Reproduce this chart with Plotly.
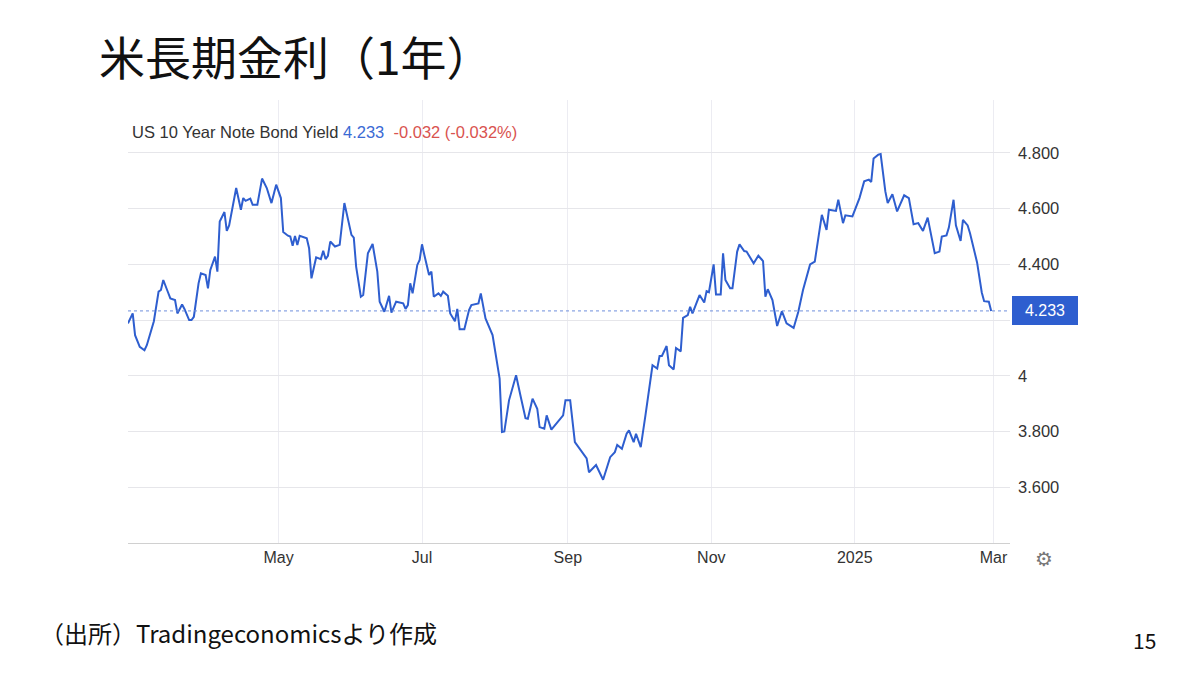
import plotly.graph_objects as go

# US 10Y yield
dates = [
    '2024-02-27', '2024-02-29', '2024-03-01', '2024-03-03', '2024-03-05', '2024-03-06', '2024-03-09', '2024-03-11',
    '2024-03-12', '2024-03-13', '2024-03-15', '2024-03-16', '2024-03-18', '2024-03-19', '2024-03-21', '2024-03-22',
    '2024-03-24', '2024-03-25', '2024-03-26', '2024-03-28', '2024-03-29', '2024-03-31',
    '2024-04-01', '2024-04-02', '2024-04-04', '2024-04-05', '2024-04-06', '2024-04-08', '2024-04-09', '2024-04-10',
    '2024-04-13', '2024-04-15', '2024-04-16', '2024-04-17', '2024-04-19', '2024-04-20', '2024-04-22', '2024-04-24',
    '2024-04-26', '2024-04-27', '2024-04-28', '2024-04-30',
    '2024-05-02', '2024-05-03', '2024-05-05', '2024-05-06', '2024-05-07', '2024-05-08', '2024-05-09', '2024-05-10',
    '2024-05-12', '2024-05-13', '2024-05-14', '2024-05-15', '2024-05-17', '2024-05-19', '2024-05-20', '2024-05-21',
    '2024-05-22', '2024-05-23', '2024-05-25', '2024-05-27', '2024-05-29', '2024-05-31',
    '2024-06-01', '2024-06-02', '2024-06-03', '2024-06-05', '2024-06-06', '2024-06-08', '2024-06-10', '2024-06-12',
    '2024-06-13', '2024-06-15', '2024-06-17', '2024-06-18', '2024-06-20', '2024-06-23', '2024-06-24', '2024-06-25',
    '2024-06-26', '2024-06-27', '2024-06-29', '2024-06-30',
    '2024-07-01', '2024-07-02', '2024-07-04', '2024-07-05', '2024-07-06', '2024-07-08', '2024-07-09', '2024-07-10',
    '2024-07-12', '2024-07-13', '2024-07-15', '2024-07-16', '2024-07-17', '2024-07-19', '2024-07-21', '2024-07-22',
    '2024-07-25', '2024-07-26', '2024-07-28', '2024-07-31',
    '2024-08-02', '2024-08-03', '2024-08-04', '2024-08-05', '2024-08-07', '2024-08-10', '2024-08-12', '2024-08-14',
    '2024-08-15', '2024-08-17', '2024-08-19', '2024-08-20', '2024-08-22', '2024-08-23', '2024-08-25', '2024-08-28',
    '2024-08-30', '2024-08-31',
    '2024-09-02', '2024-09-04', '2024-09-07', '2024-09-09', '2024-09-10', '2024-09-13', '2024-09-16', '2024-09-19',
    '2024-09-21', '2024-09-22', '2024-09-24', '2024-09-26', '2024-09-27', '2024-09-29', '2024-09-30',
    '2024-10-02', '2024-10-04', '2024-10-07', '2024-10-09', '2024-10-10', '2024-10-11', '2024-10-13', '2024-10-14',
    '2024-10-16', '2024-10-17', '2024-10-19', '2024-10-20', '2024-10-22', '2024-10-23', '2024-10-24', '2024-10-27',
    '2024-10-29', '2024-10-30', '2024-10-31',
    '2024-11-02', '2024-11-03', '2024-11-05', '2024-11-06', '2024-11-07', '2024-11-09', '2024-11-10', '2024-11-12',
    '2024-11-13', '2024-11-15', '2024-11-16', '2024-11-19', '2024-11-21', '2024-11-23', '2024-11-24', '2024-11-25',
    '2024-11-27', '2024-11-29',
    '2024-12-01', '2024-12-03', '2024-12-06', '2024-12-08', '2024-12-10', '2024-12-13', '2024-12-15', '2024-12-17',
    '2024-12-18', '2024-12-20', '2024-12-21', '2024-12-24', '2024-12-25', '2024-12-27', '2024-12-28', '2024-12-31',
    '2025-01-03', '2025-01-05', '2025-01-07', '2025-01-08', '2025-01-09', '2025-01-11', '2025-01-12', '2025-01-14',
    '2025-01-15', '2025-01-17', '2025-01-19', '2025-01-22', '2025-01-24', '2025-01-26', '2025-01-28', '2025-01-30',
    '2025-02-01', '2025-02-04', '2025-02-06', '2025-02-07', '2025-02-09', '2025-02-10', '2025-02-12', '2025-02-13',
    '2025-02-15', '2025-02-16', '2025-02-18', '2025-02-19', '2025-02-21', '2025-02-22', '2025-02-24', '2025-02-25',
    '2025-02-27', '2025-02-28',
]
yields = [
    4.188, 4.224, 4.146, 4.104, 4.092, 4.110, 4.196, 4.302,
    4.308, 4.344, 4.300, 4.278, 4.272, 4.224, 4.256, 4.240,
    4.200, 4.200, 4.212, 4.332, 4.368, 4.362,
    4.314, 4.380, 4.428, 4.374, 4.554, 4.588, 4.520, 4.540,
    4.674, 4.596, 4.638, 4.628, 4.636, 4.614, 4.614, 4.708,
    4.674, 4.650, 4.620, 4.686,
    4.638, 4.516, 4.503, 4.500, 4.467, 4.502, 4.470, 4.503,
    4.496, 4.494, 4.458, 4.350, 4.425, 4.419, 4.449, 4.419,
    4.431, 4.482, 4.464, 4.470, 4.620, 4.548,
    4.506, 4.496, 4.392, 4.284, 4.290, 4.440, 4.473, 4.374,
    4.266, 4.230, 4.287, 4.227, 4.266, 4.260, 4.240, 4.254,
    4.332, 4.296, 4.398, 4.416,
    4.472, 4.434, 4.362, 4.374, 4.284, 4.296, 4.287, 4.302,
    4.287, 4.224, 4.196, 4.240, 4.167, 4.167, 4.236, 4.254,
    4.260, 4.296, 4.206, 4.146,
    4.032, 3.990, 3.798, 3.800, 3.912, 4.002, 3.924, 3.848,
    3.846, 3.918, 3.882, 3.816, 3.810, 3.858, 3.807, 3.840,
    3.858, 3.912,
    3.912, 3.762, 3.726, 3.704, 3.654, 3.680, 3.627, 3.708,
    3.726, 3.752, 3.738, 3.792, 3.804, 3.762, 3.792,
    3.744, 3.858, 4.038, 4.026, 4.071, 4.071, 4.107, 4.038,
    4.023, 4.100, 4.088, 4.208, 4.218, 4.248, 4.224, 4.290,
    4.263, 4.304, 4.300,
    4.400, 4.292, 4.292, 4.440, 4.344, 4.314, 4.314, 4.446,
    4.472, 4.448, 4.446, 4.404, 4.431, 4.412, 4.284, 4.311,
    4.272, 4.179,
    4.232, 4.188, 4.172, 4.230, 4.308, 4.400, 4.410, 4.512,
    4.578, 4.524, 4.596, 4.592, 4.632, 4.548, 4.576, 4.572,
    4.638, 4.698, 4.704, 4.696, 4.780, 4.794, 4.796, 4.662,
    4.620, 4.652, 4.590, 4.648, 4.638, 4.544, 4.548, 4.520,
    4.568, 4.440, 4.446, 4.500, 4.504, 4.532, 4.632, 4.540,
    4.484, 4.560, 4.540, 4.512, 4.434, 4.407, 4.299, 4.268,
    4.266, 4.233,
]

last_value = 4.233
x_tick_vals = ['2024-05-01', '2024-07-01', '2024-09-01', '2024-11-01', '2025-01-01', '2025-03-01']
x_tick_text = ['May', 'Jul', 'Sep', 'Nov', '2025', 'Mar']
y_tick_vals = [3.6, 3.8, 4.0, 4.2, 4.4, 4.6, 4.8]
y_tick_text = ['3.600', '3.800', '4', '', '4.400', '4.600', '4.800']

LINE = '#2e5ecf'
FONT = 'Liberation Sans, Arial, sans-serif'
JP = 'Noto Sans CJK JP'
W, H = 1200, 675
OFF = 8  # page margin of the browser


def px(x):
    return (x - OFF) / W


def py(y):
    return 1 - (y - OFF) / H


fig = go.Figure()

fig.add_trace(go.Scatter(x=dates, y=yields, mode='lines',
                         line=dict(color=LINE, width=2), hoverinfo='skip'))

# dotted line at the last value
fig.add_hline(y=last_value, line=dict(color='#6f8fdc', width=1, dash='dot'))

fig.update_layout(width=W, height=H,
                  paper_bgcolor='white', plot_bgcolor='white',
                  showlegend=False,
                  margin=dict(l=0, r=0, t=0, b=0),
                  font=dict(family=FONT, size=16, color='#333333'))

fig.update_xaxes(domain=[px(128), px(1010)],
                 range=['2024-02-27', '2025-03-08'],
                 tickvals=x_tick_vals, ticktext=x_tick_text,
                 showgrid=True, gridcolor='#ececf2', gridwidth=1,
                 showline=True, linecolor='#d0d0d0',
                 ticks='', tickfont=dict(size=16, color='#333333'))

fig.update_yaxes(domain=[py(543), py(100)],
                 range=[3.40, 4.99], side='right',
                 tickvals=y_tick_vals, ticktext=y_tick_text,
                 showgrid=True, gridcolor='#e6e6ea', gridwidth=1,
                 zeroline=False, ticks='', ticklabelstandoff=7,
                 tickfont=dict(size=16.5, color='#333333'))

# last value tag
fig.add_annotation(xref='paper', yref='y', x=px(1012), y=last_value,
                   xanchor='left', text='4.233', showarrow=False,
                   bgcolor=LINE, bordercolor=LINE, borderpad=5, width=54,
                   font=dict(size=16, color='white'))

fig.add_annotation(xref='paper', yref='paper', x=px(130), y=py(132),
                   xanchor='left', yanchor='middle', showarrow=False,
                   text=('US 10 Year Note Bond Yield '
                         '<span style="color:#3a6ad4">4.233</span>  '
                         '<span style="color:#d9534f">-0.032 (-0.032%)</span>'),
                   font=dict(size=16.5, color='#333333'))

fig.add_annotation(xref='paper', yref='paper', x=px(1044), y=py(559),
                   xanchor='center', yanchor='middle', showarrow=False,
                   text='⚙', font=dict(size=20, color='#777777', family='DejaVu Sans'))

# slide texts
fig.add_annotation(xref='paper', yref='paper', x=px(97), y=py(55),
                   xanchor='left', yanchor='middle', showarrow=False,
                   text='米長期金利（1年）', font=dict(size=46, color='#111111', family=JP))
fig.add_annotation(xref='paper', yref='paper', x=px(38), y=py(632),
                   xanchor='left', yanchor='middle', showarrow=False,
                   text='（出所）Tradingeconomicsより作成', font=dict(size=24, color='#111111', family=JP))
fig.add_annotation(xref='paper', yref='paper', x=px(1158), y=py(640),
                   xanchor='right', yanchor='middle', showarrow=False,
                   text='15', font=dict(size=21, color='#111111', family=JP))

fig.write_html('out.html')
